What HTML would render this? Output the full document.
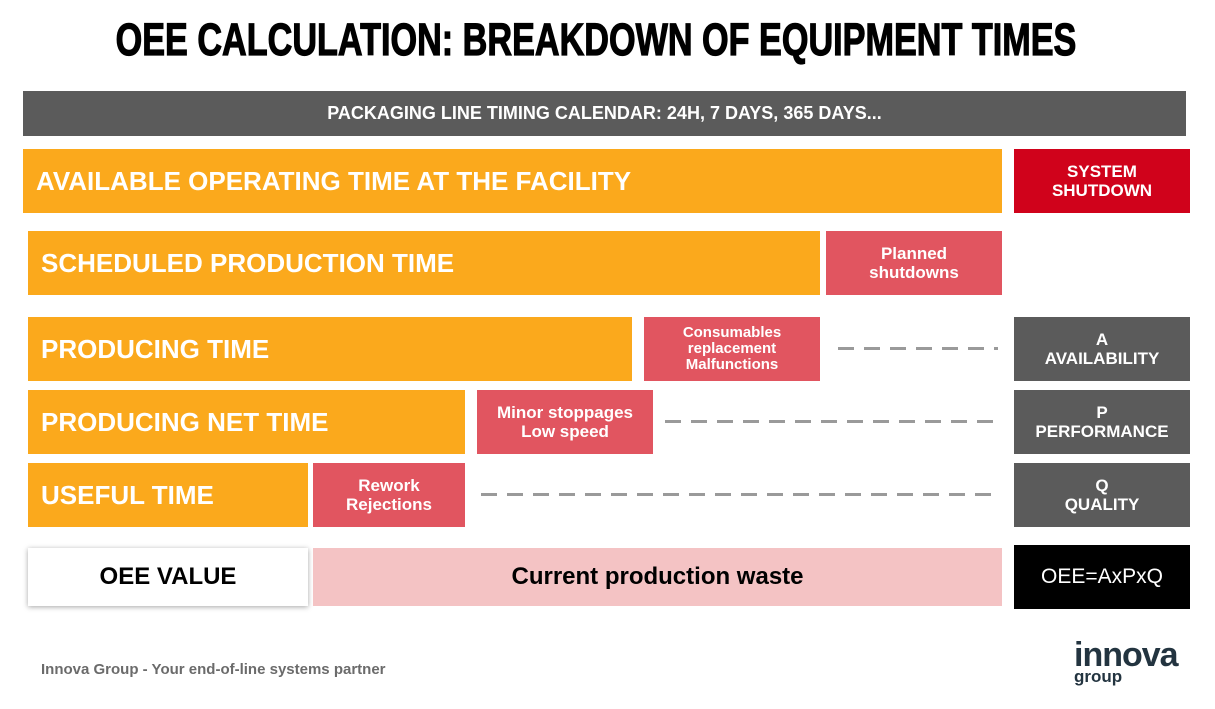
<!DOCTYPE html>
<html><head><meta charset="utf-8"><style>
*{margin:0;padding:0;box-sizing:border-box}
body{width:1215px;height:709px;background:#fff;position:relative;overflow:hidden;font-family:"Liberation Sans",sans-serif}
.b{position:absolute;display:flex;align-items:center;color:#fff;font-weight:bold}
.o{background:#FBA91C;font-size:26px;padding-left:13px;white-space:nowrap}
.r{background:#E15560;justify-content:center;text-align:center;font-size:17px;line-height:19px}
.g{background:#5B5B5B;justify-content:center;text-align:center;font-size:17px;line-height:19px}
.d{position:absolute;height:3px;background:repeating-linear-gradient(90deg,#9a9a9a 0 16px,transparent 16px 26px)}
</style></head><body>
<div style="position:absolute;left:596px;top:14px;white-space:nowrap;font-size:45px;font-weight:bold;color:#000;transform:translateX(-50%) scaleX(0.76);-webkit-text-stroke:1.2px #000">OEE CALCULATION: BREAKDOWN OF EQUIPMENT TIMES</div>
<div class="b" style="left:23px;top:91px;width:1163px;height:45px;background:#5B5B5B;justify-content:center;font-size:18px">PACKAGING LINE TIMING CALENDAR: 24H, 7 DAYS, 365 DAYS...</div>

<div class="b o" style="left:23px;top:149px;width:979px;height:64px">AVAILABLE OPERATING TIME AT THE FACILITY</div>
<div class="b r" style="left:1014px;top:149px;width:176px;height:64px;background:#D0021B">SYSTEM<br>SHUTDOWN</div>

<div class="b o" style="left:28px;top:231px;width:792px;height:64px">SCHEDULED PRODUCTION TIME</div>
<div class="b r" style="left:826px;top:231px;width:176px;height:64px">Planned<br>shutdowns</div>

<div class="b o" style="left:28px;top:317px;width:604px;height:64px">PRODUCING TIME</div>
<div class="b r" style="left:644px;top:317px;width:176px;height:64px;font-size:15px;line-height:16px">Consumables<br>replacement<br>Malfunctions</div>
<div class="d" style="left:838px;top:347px;width:160px"></div>
<div class="b g" style="left:1014px;top:317px;width:176px;height:64px">A<br>AVAILABILITY</div>

<div class="b o" style="left:28px;top:390px;width:437px;height:64px">PRODUCING NET TIME</div>
<div class="b r" style="left:477px;top:390px;width:176px;height:64px">Minor stoppages<br>Low speed</div>
<div class="d" style="left:665px;top:420px;width:333px"></div>
<div class="b g" style="left:1014px;top:390px;width:176px;height:64px">P<br>PERFORMANCE</div>

<div class="b o" style="left:28px;top:463px;width:280px;height:64px">USEFUL TIME</div>
<div class="b r" style="left:313px;top:463px;width:152px;height:64px">Rework<br>Rejections</div>
<div class="d" style="left:481px;top:493px;width:517px"></div>
<div class="b g" style="left:1014px;top:463px;width:176px;height:64px">Q<br>QUALITY</div>

<div class="b" style="left:28px;top:548px;width:280px;height:58px;background:#fff;color:#000;justify-content:center;font-size:24px;box-shadow:0 1px 5px rgba(0,0,0,0.35)">OEE VALUE</div>
<div class="b" style="left:313px;top:548px;width:689px;height:58px;background:#F4C3C4;color:#000;justify-content:center;font-size:24px">Current production waste</div>
<div class="b" style="left:1014px;top:545px;width:176px;height:64px;background:#000;justify-content:center;font-size:21px;font-weight:normal">OEE=AxPxQ</div>

<div style="position:absolute;left:41px;top:661px;font-size:15px;font-weight:bold;color:#6b6b6b">Innova Group - Your end-of-line systems partner</div>
<div style="position:absolute;left:1074px;top:638px;color:#233440;font-weight:bold;line-height:1">
<div style="font-size:34px;letter-spacing:-1px">innova</div>
<div style="font-size:17px;margin-top:-4px">group</div></div>
</body></html>
